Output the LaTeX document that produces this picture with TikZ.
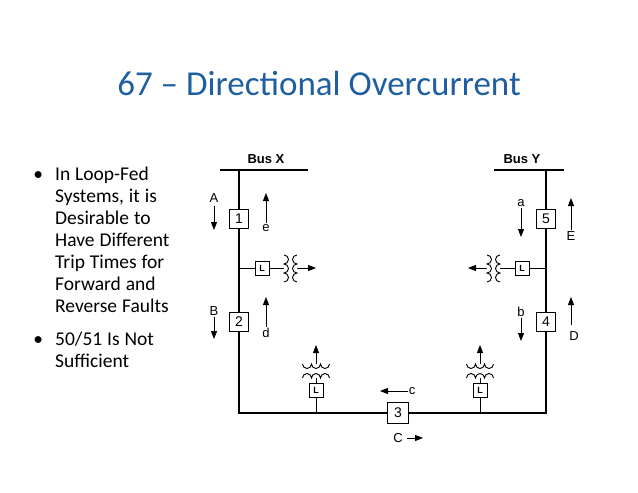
\documentclass[tikz,border=0pt]{standalone}
\usepackage{fontspec}
\setmainfont{Carlito}
\newfontfamily\helv{Liberation Sans}
\usetikzlibrary{arrows.meta}
\begin{document}
\begin{tikzpicture}[x=1pt,y=-1pt,
  brk/.style={draw,line width=1.8pt,minimum size=19pt,inner sep=0pt,font=\helv\fontsize{14}{14}\selectfont},
  ld/.style={draw,line width=0.9pt,minimum size=14pt,inner sep=0pt,font=\helv\bfseries\fontsize{9}{9}\selectfont},
  lbl/.style={font=\helv\fontsize{13}{13}\selectfont,inner sep=1pt},
  dir/.style={-{Triangle[length=8pt,width=6pt]},line width=1pt},
  busline/.style={line width=2pt},
  tap/.style={line width=0.9pt}]
\useasboundingbox (0,0) rectangle (638,493);

% title and bullets
\node[text={rgb,255:red,31;green,95;blue,160}, font=\fontsize{35}{38}\selectfont] (title) at (319,83) {67 -- Directional Overcurrent};
\node[anchor=north west, inner sep=0pt, font=\fontsize{19.5}{22}\selectfont] (txt) at (30,167)
 {\begin{minipage}{145pt}\raggedright\rightskip=0pt plus 1fil\spaceskip=0.25em
  \begin{itemize}\setlength{\itemsep}{7pt}\setlength{\parsep}{0pt}\setlength{\topsep}{0pt}\setlength{\leftmargin}{26pt}\setlength{\labelsep}{12pt}
  \item In Loop-Fed Systems, it is Desirable to Have Different Trip Times for Forward and Reverse Faults
  \item 50/51 Is Not Sufficient
  \end{itemize}\end{minipage}};

% buses
\coordinate (xl) at (220,170); \coordinate (xr) at (308,170);
\coordinate (yl) at (494,170); \coordinate (yr) at (564,170);
\draw[busline] (xl) -- (xr);
\draw[busline] (yl) -- (yr);
\node[font=\helv\bfseries\fontsize{13}{13}\selectfont] (busx) at (266,159) {Bus X};
\node[font=\helv\bfseries\fontsize{13}{13}\selectfont] (busy) at (522,159) {Bus Y};

% breakers
\coordinate (xt) at (239,170); \coordinate (yt) at (546,170);
\coordinate (bl) at (239,413); \coordinate (br) at (546,413);
\node[brk] (b1) at (239,219) {1};
\node[brk] (b2) at (239,322) {2};
\node[brk] (b5) at (546,219) {5};
\node[brk] (b4) at (546,322) {4};
\node[brk,minimum size=21pt] (b3) at (398,413) {3};
\draw[busline] (xt) -- (b1) -- (b2) -- (bl) -- (b3) -- (br) -- (b4) -- (b5) -- (yt);

% side loads
\coordinate (tl) at (239,268); \coordinate (tr) at (546,268);
\node[ld] (l1) at (262,268) {L};
\node[ld] (l2) at (522,268) {L};
\draw[tap] (tl) -- (l1) -- (284,268);
\draw[tap] (tr) -- (l2) -- (500,268);
\draw[tap] (284,255) arc(-90:90:4.5) arc(-90:90:4.5) arc(-90:90:4.5);
\draw[tap] (297,255) arc(270:90:4.5) arc(270:90:4.5) arc(270:90:4.5);
\draw[tap] (500,255) arc(270:90:4.5) arc(270:90:4.5) arc(270:90:4.5);
\draw[tap] (487,255) arc(-90:90:4.5) arc(-90:90:4.5) arc(-90:90:4.5);
\coordinate (s1) at (297,268); \coordinate (e1) at (316,268);
\coordinate (s2) at (487,268); \coordinate (e2) at (468,268);
\draw[dir,line width=0.9pt] (s1) -- (e1);
\draw[dir,line width=0.9pt] (s2) -- (e2);

% bottom loads
\node[ld] (l3) at (316,390) {L};
\node[ld] (l4) at (480,390) {L};
\foreach \n/\x in {l3/316,l4/480}{
  \draw[tap] (\n.south) -- (\x,413);
  \draw[tap] (\n) -- (\x,378);
  \draw[tap] (\x-13.5,378) arc(180:360:4.5) arc(180:360:4.5) arc(180:360:4.5);
  \draw[tap] (\x-13.5,364) arc(180:0:4.5) arc(180:0:4.5) arc(180:0:4.5);
  \draw[dir,line width=0.9pt] (\x,364) -- (\x,345);
}

% direction arrows and labels
\node[lbl] (A) at (214,198) {A}; \coordinate (Ae) at (214,230);
\draw[dir] (A.south) ++(0,2) coordinate (As) (As) -- (Ae);
\node[lbl] (e) at (266,228) {e}; \coordinate (ee) at (266,193);
\draw[dir] (e.north) -- (ee);
\node[lbl] (B) at (214,311) {B}; \coordinate (Be) at (214,339);
\draw[dir] (B.south) -- (Be);
\node[lbl] (d) at (266,333) {d}; \coordinate (de) at (266,297);
\draw[dir] (d.north) -- (de);
\node[lbl] (a) at (521,203) {a}; \coordinate (ae) at (521,237);
\draw[dir] (a.south) -- (ae);
\node[lbl] (E) at (571,236) {E}; \coordinate (Ee) at (571,198);
\draw[dir] (E.north) -- (Ee);
\node[lbl] (b) at (521,312) {b}; \coordinate (be) at (521,341);
\draw[dir] (b.south) -- (be);
\node[lbl] (D) at (574,336) {D}; \coordinate (De) at (571,297);
\draw[dir] (571,325) -- (De);
\node[lbl] (c) at (412,391) {c}; \coordinate (ce) at (380,391);
\draw[dir] (c.west) -- (ce);
\node[lbl] (C) at (398,438) {C}; \coordinate (Ce) at (423,438);
\draw[dir] (C.east) ++(3,0) coordinate (Cs) (Cs) -- (Ce);
\end{tikzpicture}
\end{document}
